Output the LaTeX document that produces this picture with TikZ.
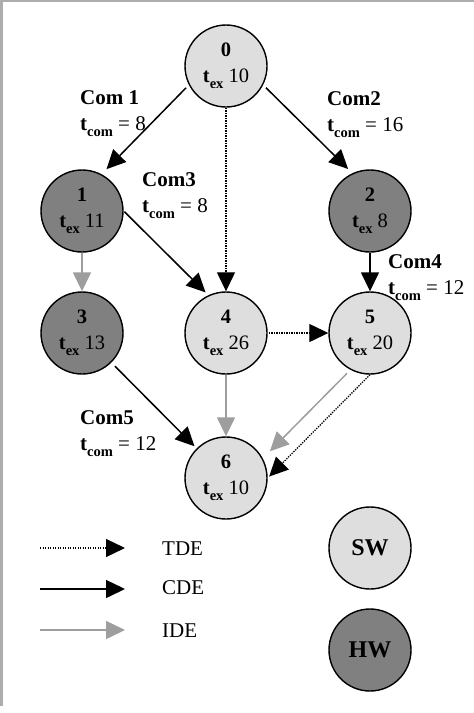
\documentclass[tikz,border=0pt]{standalone}
\usepackage{fontspec}
\setmainfont{Liberation Serif}
\usetikzlibrary{arrows.meta}
\definecolor{swgray}{gray}{0.87}
\definecolor{hwgray}{gray}{0.5}
\definecolor{idegray}{gray}{0.62}
\definecolor{framegray}{gray}{0.68}
\newcommand{\tsub}[2]{\textbf{t}\raisebox{-0.3em}{\fontsize{14.5}{14}\selectfont\textbf{#1}}~#2}

\begin{document}
\begin{tikzpicture}[
    x=1pt, y=-1pt,
    task/.style={circle, draw, line width=1.4pt, minimum size=82pt, inner sep=0pt, align=center, font=\fontsize{20.5}{24}\selectfont},
    sw/.style={task, fill=swgray},
    hw/.style={task, fill=hwgray},
    legendnode/.style={task, font=\fontsize{24}{28}\selectfont\bfseries},
    cde/.style={-{Triangle[length=19pt,width=18pt]}, line width=1.5pt},
    tde/.style={cde, line width=1.3pt, dash pattern=on 1.3pt off 1.2pt},
    ide/.style={cde, draw=idegray, fill=idegray},
    com/.style={anchor=north west, inner sep=0pt, align=left, font=\fontsize{21}{24}\selectfont}
]
    \useasboundingbox (0,0) rectangle (474,713);
    \fill[framegray] (0,0) rectangle (474,2);
    \fill[framegray] (0,0) rectangle (3,706);

    % tasks
    \node[sw] (n0) at (226,66) {\textbf{0}\\[2pt]\tsub{ex}{10}};
    \node[hw] (n1) at (82,211) {\textbf{1}\\[2pt]\tsub{ex}{11}};
    \node[hw] (n2) at (370,211) {\textbf{2}\\[2pt]\tsub{ex}{8}};
    \node[hw] (n3) at (82,333) {\textbf{3}\\[2pt]\tsub{ex}{13}};
    \node[sw] (n4) at (226,333) {\textbf{4}\\[2pt]\tsub{ex}{26}};
    \node[sw] (n5) at (370,333) {\textbf{5}\\[2pt]\tsub{ex}{20}};
    \node[sw] (n6) at (226,478) {\textbf{6}\\[2pt]\tsub{ex}{10}};

    % communication labels
    \node[com] (com1) at (80,90) {\textbf{Com 1}\\[2pt]\tsub{com}{= 8}};
    \node[com] (com2) at (327,91) {\textbf{Com2}\\[2pt]\tsub{com}{= 16}};
    \node[com] (com3) at (142,172) {\textbf{Com3}\\[2pt]\tsub{com}{= 8}};
    \node[com] (com4) at (388,254) {\textbf{Com4}\\[2pt]\tsub{com}{= 12}};
    \node[com] (com5) at (80,410) {\textbf{Com5}\\[2pt]\tsub{com}{= 12}};

    % edges
    \draw[cde, shorten <=4pt, shorten >=7pt] (n0.207) -- (n1.62);
    \draw[cde, shorten <=4pt, shorten >=6pt] (n0.333) -- (n2.115);
    \draw[tde] (n0.south) -- (n4.north);
    \draw[ide] (n1.south) -- (n3.north);
    \draw[cde, shorten <=1pt, shorten >=4pt] (n1.east) -- (n4.115);
    \draw[cde] (n2.south) -- (n5.north);
    \draw[tde, shorten <=1pt] (n4.east) -- (n5.west);
    \draw[cde, shorten <=5pt, shorten >=3pt] (n3) -- (n6);
    \draw[ide] (n4.south) -- (n6.north);
    \draw[ide, shorten <=5pt, shorten >=10pt] (n5.242) -- (n6.28);
    \draw[tde, shorten >=2pt] (n5.south) -- (n6.east);

    % legend
    \coordinate (tdeA) at (40,548);
    \coordinate (tdeB) at (125,548);
    \coordinate (cdeA) at (40,589);
    \coordinate (cdeB) at (125,589);
    \coordinate (ideA) at (40,630);
    \coordinate (ideB) at (125,630);
    \draw[tde] (tdeA) -- (tdeB);
    \draw[cde] (cdeA) -- (cdeB);
    \draw[ide] (ideA) -- (ideB);
    \node[anchor=west, inner sep=0pt, font=\fontsize{21}{24}\selectfont] (tdelbl) at (162,549) {TDE};
    \node[anchor=west, inner sep=0pt, font=\fontsize{21}{24}\selectfont] (cdelbl) at (162,588) {CDE};
    \node[anchor=west, inner sep=0pt, font=\fontsize{21}{24}\selectfont] (idelbl) at (162,631) {IDE};
    \node[legendnode, fill=swgray] (swkey) at (370,548) {SW};
    \node[legendnode, fill=hwgray] (hwkey) at (370,650) {HW};
\end{tikzpicture}
\end{document}
